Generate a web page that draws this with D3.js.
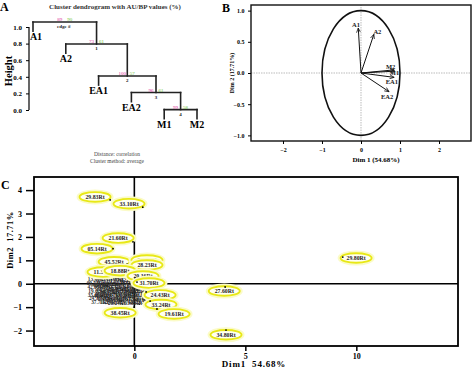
<!DOCTYPE html>
<html><head><meta charset="utf-8">
<script src="https://cdn.jsdelivr.net/npm/d3@7"></script>
<style>
body{margin:0;background:#fff;}
svg{display:block;}
text{font-family:"Liberation Serif","Times New Roman",serif;}
</style></head>
<body>
<svg id="c" width="474" height="371"></svg>
<script>
// ---------- Panel A data (dendrogram) ----------
const leaves = ["A1","A2","EA1","EA2","M1","M2"];
const mergeHeights = [1.06, 0.795, 0.41, 0.21, 0.005];
const auValues = [89, 73, 100, 96, 99];
const bpValues = [90, 61, 57, 61, 58];
const edgeLabels = ["edge #", "1", "2", "3", "4"];
const heightTicks = [0.0, 0.2, 0.4, 0.6, 0.8, 1.0];
const leafHang = 0.11;

// ---------- Panel B data (variables) ----------
const varNames = ["A1","A2","M2","M1","EA1","EA2"];
const varDim1 = [-0.07, 0.33, 0.85, 0.87, 0.85, 0.72];
const varDim2 = [0.72, 0.62, 0.05, 0.03, -0.07, -0.30];
const varLabX = [-0.13, 0.42, 0.76, 0.86, 0.79, 0.67];
const varLabY = [0.78, 0.66, 0.10, 0.01, -0.14, -0.38];
const bTicksX = [-2, -1, 0, 1, 2];
const bTicksY = [-1.0, -0.5, 0.0, 0.5, 1.0];

// ---------- Panel C data (individuals) ----------
const indLabels = ["29.83Rt","33.10Rt","21.60Rt","05.14Rt","45.52Rt","30.34Rt","28.23Rt","11.30Rt","18.88Rt","20.16Rt","31.70Rt","24.43Rt","33.24Rt","19.61Rt","38.45Rt","27.60Rt","34.80Rt","29.80Rt"];
const indX = [-1.09, 0.38, -0.06, -0.96, -0.33, -0.15, -0.06, -0.82, -0.33, 0.03, 0.12, 0.53, 0.71, 1.02, -0.01, 4.09, 4.13, 9.39];
const indY = [3.58, 3.27, 1.79, 1.50, 0.84, 0.76, 0.67, 0.54, 0.46, 0.24, 0.07, -0.35, -0.74, -1.08, -1.00, -0.14, -1.98, 1.14];
const indLabX = [-1.77, -0.24, -0.73, -1.68, -0.91, 0.57, 0.57, -1.41, -0.64, 0.39, 0.66, 1.16, 1.20, 1.79, -0.64, 4.05, 4.13, 9.99];
const indLabY = [3.71, 3.42, 1.95, 1.50, 0.94, 1.01, 0.80, 0.50, 0.56, 0.33, 0.03, -0.48, -0.89, -1.29, -1.24, -0.31, -2.18, 1.10];
const cloudLabels = ["13.45Rt","22.10Rt","41.30Rt","17.82Rt","09.54Rt","26.70Rt","36.12Rt","14.63Rt","25.48Rt","42.05Rt","08.36Rt","31.27Rt","23.91Rt","15.40Rt","37.60Rt","19.02Rt","44.18Rt","27.55Rt","10.73Rt","32.84Rt","21.36Rt","35.09Rt","06.81Rt","28.67Rt","39.20Rt","12.94Rt","43.57Rt","18.31Rt","24.76Rt","07.43Rt","34.15Rt","20.88Rt","29.12Rt","16.05Rt","40.66Rt","37.71Rt","11.59Rt","26.24Rt","30.97Rt","13.88Rt","22.63Rt","45.10Rt","05.92Rt","33.48Rt","17.26Rt","38.03Rt","41.85Rt","09.17Rt","27.09Rt","14.22Rt"];
const cloudX = [-1.70,-1.30,-0.90,-0.50,-1.75,-1.40,-1.05,-0.70,-0.30,-1.72,-1.38,-1.02,-0.66,-0.28,0.05,-1.68,-1.33,-0.98,-0.60,-0.22,0.15,-1.70,-1.36,-1.00,-0.62,-0.25,0.12,0.40,-1.65,-1.30,-0.95,-0.58,-0.20,0.18,0.45,-1.55,-1.18,-0.80,-0.42,-0.05,0.30,-1.50,-1.15,-0.80,-0.45,-0.10,-1.45,-0.85,-0.35,0.25];
const cloudY = [0.18,0.22,0.20,0.15,0.02,0.06,0.00,0.05,0.02,-0.14,-0.10,-0.16,-0.12,-0.15,-0.12,-0.30,-0.27,-0.32,-0.28,-0.31,-0.30,-0.47,-0.44,-0.49,-0.45,-0.48,-0.46,-0.50,-0.63,-0.60,-0.66,-0.62,-0.65,-0.63,-0.68,-0.80,-0.78,-0.82,-0.79,-0.84,-0.80,-0.05,-0.38,-0.22,-0.55,-0.22,-0.55,-0.70,-0.36,-0.15];
const cTicksX = [0, 5, 10];
const cTicksY = [-2, -1, 0, 1, 2, 3, 4];

const svg = d3.select("#c");
const BOLD = "bold";
const SANS = "Liberation Sans,Arial,sans-serif";

// Panel letters
svg.append("text").attr("x",0).attr("y",11).attr("font-family",SANS).attr("font-weight",BOLD).attr("font-size",12).text("A");
svg.append("text").attr("x",222).attr("y",12).attr("font-family",SANS).attr("font-weight",BOLD).attr("font-size",12).text("B");
svg.append("text").attr("x",1).attr("y",189).attr("font-family",SANS).attr("font-weight",BOLD).attr("font-size",12).text("C");

// ================= Panel A =================
(function(){
  const g = svg.append("g");
  const x = d3.scaleLinear().domain([0, leaves.length-1]).range([33, 197]);
  const y = d3.scaleLinear().domain([0, 1]).range([110, 27]);
  g.append("text").attr("x",115).attr("y",8.5).attr("text-anchor","middle")
    .attr("font-family",SANS).attr("font-weight",BOLD)
    .attr("font-size",7).attr("fill","#333").text("Cluster dendrogram with AU/BP values (%)");
  const ax = d3.axisLeft(y).tickValues(heightTicks).tickFormat(d3.format(".1f")).tickSize(3);
  const axg = g.append("g").attr("transform","translate(29,0)").call(ax);
  axg.select(".domain").attr("stroke","#000").attr("stroke-width",1.2).attr("d","M0,"+y(0)+"V"+y(1));
  axg.selectAll("text").attr("font-family","Liberation Serif,serif").attr("font-weight",BOLD).attr("font-size",7).attr("dx",-1);
  g.append("text").attr("transform","translate(12,71) rotate(-90)").attr("text-anchor","middle")
    .attr("font-weight",BOLD).attr("font-size",10.5).text("Height");
  const n = mergeHeights.length;
  const cx = new Array(n);
  cx[n-1] = (x(n-1) + x(n)) / 2;
  for (let i = n-2; i >= 0; i--) cx[i] = (x(i) + cx[i+1]) / 2;
  const lines = [];
  for (let i = 0; i < n; i++) {
    const h = y(mergeHeights[i]);
    const rightX = i < n-1 ? cx[i+1] : x(n);
    lines.push([x(i), h, rightX, h]);
    lines.push([x(i), h, x(i), y(mergeHeights[i]-leafHang)]);
    if (i < n-1) lines.push([cx[i+1], h, cx[i+1], y(mergeHeights[i+1])]);
    else lines.push([x(n), h, x(n), y(mergeHeights[i]-leafHang)]);
  }
  g.selectAll("line.d").data(lines).join("line").attr("class","d")
    .attr("x1",d=>d[0]).attr("y1",d=>d[1]).attr("x2",d=>d[2]).attr("y2",d=>d[3])
    .attr("stroke","#222").attr("stroke-width",1.6).attr("stroke-linecap","square");
  leaves.forEach((L,i)=>{
    const mi = Math.min(i, n-1);
    g.append("text").attr("x", x(i) + (i===0?3:0)).attr("y", y(mergeHeights[mi]-leafHang)+9)
      .attr("text-anchor","middle").attr("font-weight",BOLD).attr("font-size",10).text(L);
  });
  for (let i = 0; i < n; i++) {
    const h = y(mergeHeights[i]);
    g.append("text").attr("x",cx[i]-5).attr("y",h-0.6).attr("text-anchor","middle")
      .attr("font-family",SANS).attr("font-size",5).attr("fill","#e0359c").text(auValues[i]);
    g.append("text").attr("x",cx[i]+5).attr("y",h-0.6).attr("text-anchor","middle")
      .attr("font-family",SANS).attr("font-size",5).attr("fill","#6cc233").text(bpValues[i]);
    g.append("text").attr("x",cx[i] + (i===0?-1:0)).attr("y",h+6).attr("text-anchor","middle")
      .attr("font-weight",BOLD).attr("font-size",5).attr("fill","#222").text(edgeLabels[i]);
  }
  g.append("text").attr("x",117).attr("y",156).attr("text-anchor","middle")
    .attr("font-family",SANS).attr("font-size",5.5).attr("fill","#444").text("Distance: correlation");
  g.append("text").attr("x",117).attr("y",163).attr("text-anchor","middle")
    .attr("font-family",SANS).attr("font-size",5.5).attr("fill","#444").text("Cluster method: average");
})();

// ================= Panel B =================
(function(){
  const g = svg.append("g");
  const x = d3.scaleLinear().domain([-2.82, 2.82]).range([251, 471]);
  const y = d3.scaleLinear().domain([-1.09, 1.09]).range([141, 5]);
  g.append("line").attr("x1",x(-2.82)).attr("x2",x(2.82)).attr("y1",y(0)).attr("y2",y(0))
    .attr("stroke","#aaa").attr("stroke-width",0.8).attr("stroke-dasharray","1.5,1");
  g.append("line").attr("y1",y(-1.09)).attr("y2",y(1.09)).attr("x1",x(0)).attr("x2",x(0))
    .attr("stroke","#aaa").attr("stroke-width",0.8).attr("stroke-dasharray","1.5,1");
  g.append("ellipse").attr("cx",x(0)).attr("cy",y(0)).attr("rx",x(1)-x(0)).attr("ry",y(0)-y(1))
    .attr("fill","none").attr("stroke","#111").attr("stroke-width",1.6);
  g.append("rect").attr("x",251).attr("y",5).attr("width",220).attr("height",136)
    .attr("fill","none").attr("stroke","#111").attr("stroke-width",1.4);
  const ax = g.append("g").attr("transform","translate(0,141)").call(d3.axisBottom(x).tickValues(bTicksX).tickSize(3).tickFormat(d3.format("d")));
  ax.select(".domain").remove();
  ax.selectAll("text").attr("font-weight",BOLD).attr("font-size",6).attr("dy","0.9em");
  const ay = g.append("g").attr("transform","translate(251,0)").call(d3.axisLeft(y).tickValues(bTicksY).tickSize(3).tickFormat(d3.format(".1f")));
  ay.select(".domain").remove();
  ay.selectAll("text").attr("font-weight",BOLD).attr("font-size",6).attr("dx",-0.5);
  g.append("text").attr("x",376).attr("y",162).attr("text-anchor","middle").attr("font-weight",BOLD).attr("font-size",7).text("Dim 1 (54.68%)");
  g.append("text").attr("transform","translate(234,73) rotate(-90)").attr("text-anchor","middle").attr("font-weight",BOLD).attr("font-size",6).text("Dim 2 (17.71%)");
  const defs = svg.append("defs");
  defs.append("marker").attr("id","ah").attr("viewBox","0 0 10 10").attr("refX",9).attr("refY",5)
    .attr("markerWidth",5).attr("markerHeight",5).attr("orient","auto")
    .append("path").attr("d","M0,1L9,5L0,9").attr("fill","none").attr("stroke","#111").attr("stroke-width",1.5);
  varNames.forEach((v,i)=>{
    g.append("line").attr("x1",x(0)).attr("y1",y(0)).attr("x2",x(varDim1[i])).attr("y2",y(varDim2[i]))
      .attr("stroke","#111").attr("stroke-width",1).attr("marker-end","url(#ah)");
    g.append("text").attr("x",x(varLabX[i])).attr("y",y(varLabY[i])).attr("dy","0.35em").attr("text-anchor","middle")
      .attr("font-size",6.5).attr("font-weight",BOLD).attr("fill","#222").text(v);
  });
})();

// ================= Panel C =================
(function(){
  const g = svg.append("g");
  const x = d3.scaleLinear().domain([-4.52, 14.58]).range([34, 458]);
  const y = d3.scaleLinear().domain([-2.66, 4.56]).range([346, 177]);
  g.append("line").attr("x1",34).attr("x2",458).attr("y1",y(0)).attr("y2",y(0)).attr("stroke","#000").attr("stroke-width",1.6);
  g.append("line").attr("x1",x(0)).attr("x2",x(0)).attr("y1",177).attr("y2",346).attr("stroke","#000").attr("stroke-width",1.6);
  cloudLabels.forEach((L,i)=>{
    g.append("circle").attr("cx",x(cloudX[i])+6).attr("cy",y(cloudY[i])+1).attr("r",0.7).attr("fill","#000");
    g.append("text").attr("x",x(cloudX[i])).attr("y",y(cloudY[i])).attr("dy","0.35em").attr("text-anchor","middle")
      .attr("font-weight",BOLD).attr("font-size",5.3).attr("fill","#2a2a2a").text(L);
  });
  indLabels.forEach((L,i)=>{
    const lx = x(indLabX[i]), ly = y(indLabY[i]);
    g.append("ellipse").attr("cx",lx).attr("cy",ly).attr("rx",17).attr("ry",6)
      .attr("fill","none").attr("stroke","#fbfbc8").attr("stroke-width",3);
    g.append("ellipse").attr("cx",lx).attr("cy",ly).attr("rx",15.5).attr("ry",4.8)
      .attr("fill","#fffff2").attr("stroke","#e8e816").attr("stroke-width",1.9);
    g.append("text").attr("x",lx).attr("y",ly).attr("dy","0.35em").attr("text-anchor","middle")
      .attr("font-weight",BOLD).attr("font-size",5.8).attr("fill","#222").text(L);
    g.append("circle").attr("cx",x(indX[i])).attr("cy",y(indY[i])).attr("r",0.9).attr("fill","#000");
  });
  g.append("rect").attr("x",34).attr("y",177).attr("width",424).attr("height",169)
    .attr("fill","none").attr("stroke","#000").attr("stroke-width",1.8);
  const ax = g.append("g").attr("transform","translate(0,346)").call(d3.axisBottom(x).tickValues(cTicksX).tickSize(5).tickFormat(d3.format("d")));
  ax.select(".domain").remove();
  ax.selectAll("line").attr("stroke-width",1.5);
  ax.selectAll("text").attr("font-weight",BOLD).attr("font-size",8).attr("dy","0.6em");
  const ay = g.append("g").attr("transform","translate(34,0)").call(d3.axisLeft(y).tickValues(cTicksY).tickSize(8).tickFormat(d3.format("d")));
  ay.select(".domain").remove();
  ay.selectAll("line").attr("stroke-width",1.5);
  ay.selectAll("text").attr("font-weight",BOLD).attr("font-size",8).attr("dx",-1);
  g.append("text").attr("x",254).attr("y",367).attr("text-anchor","middle").attr("font-weight",BOLD)
    .attr("font-size",9).attr("letter-spacing",0.8).attr("xml:space","preserve").text("Dim1  54.68%");
  g.append("text").attr("transform","translate(13,240) rotate(-90)").attr("text-anchor","middle").attr("font-weight",BOLD)
    .attr("font-size",8.5).attr("letter-spacing",0.5).attr("xml:space","preserve").text("Dim2  17.71%");
})();
</script>
</body></html>
